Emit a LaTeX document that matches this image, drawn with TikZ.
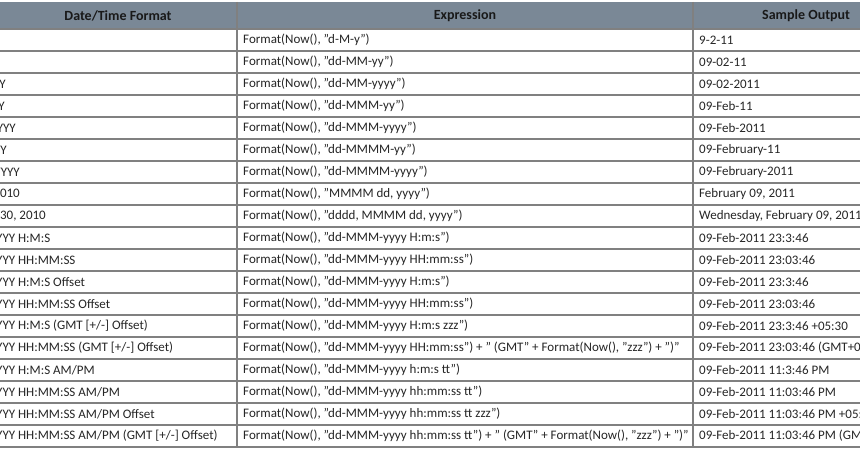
\documentclass[tikz,border=0pt]{standalone}
\usepackage{fontspec}
\setmainfont{Carlito}
\newcommand\qq{\symbol{34}}
\begin{document}
\begin{tikzpicture}[x=1pt,y=-1pt,
  cell/.style={font=\fontsize{13}{15}\selectfont, text=black!85, inner sep=0pt, anchor=west},
  hdr/.style={font=\bfseries\fontsize{14}{16}\selectfont, text=black!90, inner sep=0pt},
  grid/.style={draw=black!50, line width=1.2pt}]
\useasboundingbox (0,0) rectangle (860,452);
\clip (0,0) rectangle (860,452);
\fill[white] (0,0) rectangle (860,452);
\fill[fill={rgb,255:red,122;green,136;blue,150}] (-5,2) rectangle (865,29);
\node[hdr] (h1) at (118,16) {Date/Time Format};
\node[hdr] (h2) at (465,16) {Expression};
\node[hdr,anchor=west] (h3) at (762,16) {Sample Output};
% grid
\foreach \i in {0,...,19} \draw[grid] (-5,{29+22*\i}) -- (865,{29+22*\i});
\draw[grid] (237,2) -- (237,447);
\draw[grid] (693,2) -- (693,447);
\def\ex{Format(Now(), }
% left column (clipped)
\node[cell,anchor=east] (a1) at (-15,40) {D-M-Y};
\node[cell,anchor=east] (a2) at (-10,62) {DD-MM-YY};
\node[cell,anchor=east] (a3) at (6,84) {DD-MM-YYYY};
\node[cell,anchor=east] (a4) at (5,106) {DD-MMM-YY};
\node[cell,anchor=east] (a5) at (16,128) {DD-MMM-YYYY};
\node[cell,anchor=east] (a6) at (7,150) {DD-MMMM-YY};
\node[cell,anchor=east] (a7) at (20,172) {DD-MMMM-YYYY};
\node[cell,anchor=east] (a8) at (20,194) {Month DD, 2010};
\node[cell,anchor=east] (a9) at (46,216) {Day, Month 30, 2010};
\foreach \t [count=\k from 10] in {YYY H:M:S, YYY HH:MM:SS, YYY H:M:S Offset, YYY HH:MM:SS Offset, YYY H:M:S (GMT [+/-] Offset), YYY HH:MM:SS (GMT [+/-] Offset), YYY H:M:S AM/PM, YYY HH:MM:SS AM/PM, YYY HH:MM:SS AM/PM Offset, YYY HH:MM:SS AM/PM (GMT [+/-] Offset)}
  \node[cell] (a\k) at (-4,{40+22*(\k-1)}) {\t};
% expression column
\node[cell] (b1) at (243,40) {\ex\qq d-M-y\qq)};
\node[cell] (b2) at (243,62) {\ex\qq dd-MM-yy\qq)};
\node[cell] (b3) at (243,84) {\ex\qq dd-MM-yyyy\qq)};
\node[cell] (b4) at (243,106) {\ex\qq dd-MMM-yy\qq)};
\node[cell] (b5) at (243,128) {\ex\qq dd-MMM-yyyy\qq)};
\node[cell] (b6) at (243,150) {\ex\qq dd-MMMM-yy\qq)};
\node[cell] (b7) at (243,172) {\ex\qq dd-MMMM-yyyy\qq)};
\node[cell] (b8) at (243,194) {\ex\qq MMMM dd, yyyy\qq)};
\node[cell] (b9) at (243,216) {\ex\qq dddd, MMMM dd, yyyy\qq)};
\node[cell] (b10) at (243,238) {\ex\qq dd-MMM-yyyy H:m:s\qq)};
\node[cell] (b11) at (243,260) {\ex\qq dd-MMM-yyyy HH:mm:ss\qq)};
\node[cell] (b12) at (243,282) {\ex\qq dd-MMM-yyyy H:m:s\qq)};
\node[cell] (b13) at (243,304) {\ex\qq dd-MMM-yyyy HH:mm:ss\qq)};
\node[cell] (b14) at (243,326) {\ex\qq dd-MMM-yyyy H:m:s zzz\qq)};
\node[cell] (b15) at (243,348) {\ex\qq dd-MMM-yyyy HH:mm:ss\qq) + \qq{} (GMT\qq{} + \ex\qq zzz\qq) + \qq)\qq};
\node[cell] (b16) at (243,370) {\ex\qq dd-MMM-yyyy h:m:s tt\qq)};
\node[cell] (b17) at (243,392) {\ex\qq dd-MMM-yyyy hh:mm:ss tt\qq)};
\node[cell] (b18) at (243,414) {\ex\qq dd-MMM-yyyy hh:mm:ss tt zzz\qq)};
\node[cell] (b19) at (243,436) {\ex\qq dd-MMM-yyyy hh:mm:ss tt\qq) + \qq{} (GMT\qq{} + \ex\qq zzz\qq) + \qq)\qq};
% sample output
\foreach \t [count=\k] in {9-2-11, 09-02-11, 09-02-2011, 09-Feb-11, 09-Feb-2011, 09-February-11, 09-February-2011, {February 09, 2011}, {Wednesday, February 09, 2011}, 09-Feb-2011 23:3:46, 09-Feb-2011 23:03:46, 09-Feb-2011 23:3:46, 09-Feb-2011 23:03:46, 09-Feb-2011 23:3:46 +05:30, 09-Feb-2011 23:03:46 (GMT+05:30), 09-Feb-2011 11:3:46 PM, 09-Feb-2011 11:03:46 PM, 09-Feb-2011 11:03:46 PM +05:30, 09-Feb-2011 11:03:46 PM (GMT+05:30)}
  \node[cell] (c\k) at (699,{40+22*(\k-1)}) {\t};
\end{tikzpicture}
\end{document}
